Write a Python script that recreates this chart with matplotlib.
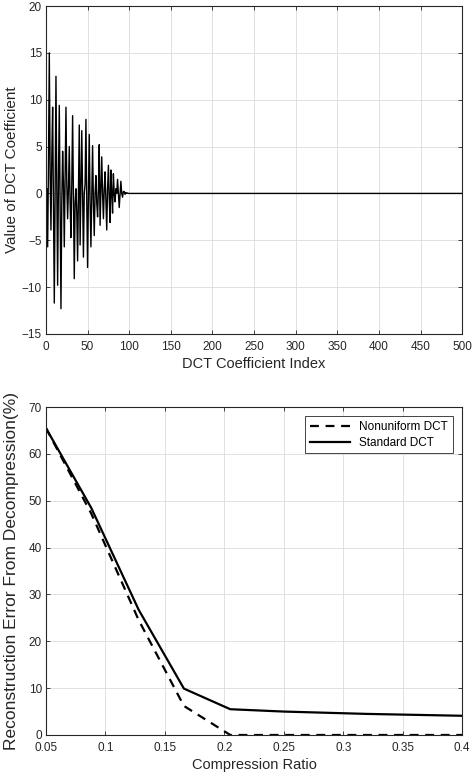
import matplotlib
matplotlib.use("Agg")
import matplotlib.pyplot as plt
import numpy as np
from matplotlib.ticker import FuncFormatter

plt.rcParams['font.family'] = ['Liberation Sans', 'DejaVu Sans']

# first 100 DCT coefficients, the remaining ones are zero
dct_head = [0.5, -5.7, 3.0, 15.0, 2.0, -3.9, 4.0, 9.2, -1.0, -11.7,
            1.0, 12.5, 0.5, -9.8, 1.5, 9.4, -2.0, -12.3, -1.0, 4.5,
            1.0, -5.7, 2.0, 9.2, 1.0, -2.7, 0.5, 5.0, -1.0, -4.7,
            1.0, 8.3, -1.0, -9.1, -1.0, 0.5, -2.0, -7.2, 0.0, 7.3,
            -5.5, 1.0, 6.7, 0.0, -6.8, 0.0, 1.0, 7.9, -1.0, -7.9,
            0.0, 6.3, -1.0, -5.7, 0.0, 5.1, -1.0, -4.5, 0.0, 1.9,
            -1.0, -2.5, 0.5, 5.2, -3.4, 0.5, 3.9, 0.0, -2.7, 0.5,
            2.3, -1.0, -3.9, 0.5, 3.0, -0.5, -3.1, 2.5, 0.0, -2.1,
            2.1, 0.0, -0.9, 0.5, 0.0, 1.5, 0.0, -1.5, 0.0, 1.3,
            0.0, -0.4, 0.2, 0.2, -0.1, 0.1, 0.0, 0.05, 0.0, 0.0]
n_coef = 500

ratio = [0.05, 0.088, 0.128, 0.166, 0.205, 0.25, 0.32, 0.4]
err_nonuniform = [65.5, 47.3, 24.5, 6.2, 0.0, 0.0, 0.0, 0.0]
err_standard = [65.5, 48.5, 26.7, 9.9, 5.5, 5.0, 4.5, 4.1]

coef = np.zeros(n_coef)
coef[:len(dct_head)] = dct_head
idx = np.arange(1, n_coef + 1)

edge = '#262626'
fig = plt.figure(figsize=(4.74, 7.8), dpi=100)
ax1 = fig.add_axes([0.097, 0.5718, 0.878, 0.4205])
ax2 = fig.add_axes([0.097, 0.0577, 0.878, 0.4205])


def style(ax):
    ax.grid(True, color='#dcdcdc', linewidth=0.6)
    ax.set_axisbelow(True)
    for s in ax.spines.values():
        s.set_color(edge)
        s.set_linewidth(0.8)
    ax.tick_params(direction='in', top=True, right=True, length=3,
                   width=0.6, colors=edge, labelsize=8.5)
    ax.tick_params(axis='x', pad=5)
    ax.tick_params(axis='y', pad=3)
    ax.yaxis.set_label_coords(-0.066, 0.5)


ax1.plot(idx, coef, color='k', linewidth=1.0)
ax1.set_xlim(0, 500)
ax1.set_ylim(-15, 20)
ax1.set_xticks(np.arange(0, 501, 50))
ax1.set_yticks(np.arange(-15, 21, 5))
ax1.set_xlabel('DCT Coefficient Index', fontsize=10.5, color=edge, labelpad=3)
ax1.set_ylabel('Value of DCT Coefficient', fontsize=11, color=edge)
style(ax1)

ax2.plot(ratio, err_nonuniform, 'k--', linewidth=1.6, dashes=(4, 3),
         label='Nonuniform DCT')
ax2.plot(ratio, err_standard, 'k-', linewidth=1.6, label='Standard DCT')
ax2.set_xlim(0.05, 0.4)
ax2.set_ylim(0, 70)
ax2.set_xticks(np.arange(0.05, 0.401, 0.05))
ax2.set_yticks(np.arange(0, 71, 10))
ax2.xaxis.set_major_formatter(FuncFormatter(lambda v, p: '%g' % round(v, 2)))
ax2.set_xlabel('Compression Ratio', fontsize=10.5, color=edge, labelpad=3)
ax2.set_ylabel('Reconstruction Error From Decompression(%)', fontsize=12.5,
               color=edge)
style(ax2)
leg = ax2.legend(loc='upper right', fontsize=8.5, fancybox=False,
                 framealpha=1, edgecolor=edge, handlelength=3.4,
                 borderaxespad=0.8, labelspacing=0.3)
leg.get_frame().set_linewidth(0.6)

fig.savefig('out.png', dpi=100)
